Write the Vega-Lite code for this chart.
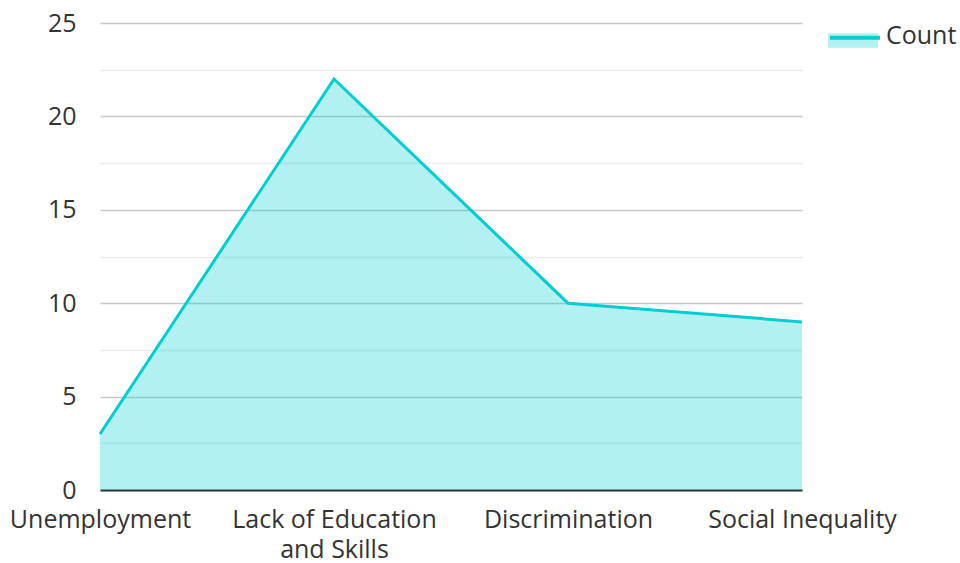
{
  "$schema": "https://vega.github.io/schema/vega-lite/v6.json",
  "width": 702,
  "height": 467,
  "autosize": {"type": "none"},
  "padding": {"left": 100, "top": 23, "right": 158, "bottom": 73},
  "background": "white",
  "config": {"font": "Open Sans", "view": {"stroke": null}},
  "data": {
    "values": [
      {"category": "Unemployment", "Count": 3},
      {"category": "Lack of Education and Skills", "Count": 22},
      {"category": "Discrimination", "Count": 10},
      {"category": "Social Inequality", "Count": 9}
    ]
  },
  "transform": [{"fold": ["Count"], "as": ["series", "value"]}],
  "encoding": {
    "x": {
      "field": "category",
      "type": "ordinal",
      "sort": null,
      "scale": {"type": "point", "padding": 0},
      "axis": {
        "title": null,
        "labelAngle": 0,
        "ticks": false,
        "grid": false,
        "domainColor": "#333333",
        "domainWidth": 2,
        "labelFontSize": 25,
        "labelColor": "#333333",
        "labelPadding": 17,
        "labelLineHeight": 30,
        "labelLimit": 0,
        "labelExpr": "datum.label == 'Lack of Education and Skills' ? ['Lack of Education', 'and Skills'] : datum.label"
      }
    },
    "y": {
      "field": "value",
      "type": "quantitative",
      "scale": {"domain": [0, 25], "nice": false},
      "axis": {
        "title": null,
        "values": [0, 2.5, 5, 7.5, 10, 12.5, 15, 17.5, 20, 22.5, 25],
        "labelExpr": "datum.value % 5 === 0 ? datum.label : ''",
        "ticks": false,
        "domain": false,
        "gridColor": {"condition": {"test": "datum.value % 5 === 0", "value": "#c8c8c8"}, "value": "#ebebeb"},
        "gridWidth": 1.5,
        "labelFontSize": 25,
        "labelColor": "#333333",
        "labelPadding": 24
      }
    }
  },
  "layer": [
    {
      "mark": {"type": "area", "fillOpacity": 0.3},
      "encoding": {
        "fill": {
          "field": "series",
          "type": "nominal",
          "scale": {"domain": ["Count"], "range": ["#00CED1"]},
          "legend": {
            "title": null,
            "orient": "none",
            "legendX": 728,
            "legendY": -14,
            "padding": 0,
            "symbolType": "M-1,-0.03L1,-0.03L1,0.55L-1,0.55Z",
            "symbolSize": 2500,
            "symbolOpacity": 0.3,
            "symbolStrokeWidth": 0,
            "labelFontSize": 25,
            "labelColor": "transparent",
            "labelOffset": 4
          }
        }
      }
    },
    {
      "mark": {"type": "line", "strokeWidth": 3},
      "encoding": {
        "stroke": {
          "field": "series",
          "type": "nominal",
          "scale": {"range": ["#00CED1"]},
          "legend": {
            "title": null,
            "orient": "none",
            "legendX": 728,
            "legendY": -14,
            "padding": 0,
            "symbolType": "M-1,0.07L1,0.07",
            "symbolSize": 2500,
            "symbolStrokeWidth": 4,
            "labelFontSize": 25,
            "labelColor": "#333333",
            "labelOffset": 4
          }
        }
      }
    }
  ]
}
